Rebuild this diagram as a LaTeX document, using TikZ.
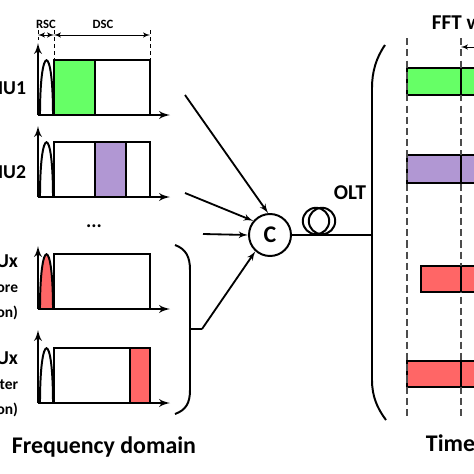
\documentclass[tikz,border=0pt]{standalone}
\usepackage{fontspec}
\setmainfont{Carlito}
\usepackage{tikz}
\usetikzlibrary{shapes,arrows,calc}
\definecolor{onugreen}{RGB}{102,255,102}
\definecolor{onupurple}{RGB}{177,151,211}
\definecolor{onured}{RGB}{255,102,102}
\tikzstyle{line} = [draw, line width=1.3pt, -latex']
\tikzstyle{axis} = [draw, line width=1.7pt, -latex']
\tikzstyle{block} = [draw, line width=1.4pt]
\tikzstyle{dim} = [draw, line width=0.7pt, latex'-latex']
\tikzstyle{tick} = [draw, line width=0.7pt, dash pattern=on 3pt off 2pt]
\tikzstyle{window} = [draw, gray!60!black, line width=0.9pt, dash pattern=on 5pt off 3pt]
\tikzstyle{coupler} = [draw, circle, line width=1.4pt, minimum size=1.05cm, inner sep=0pt]
\tikzstyle{label} = [font=\fontsize{14}{17.7}\selectfont\bfseries]

\begin{document}
\begin{tikzpicture}[x=0.025cm, y=-0.025cm]
        \useasboundingbox (0,0) rectangle (474,474);
        \clip (0,0) rectangle (474,474);
        \fill[onugreen] (54,60) rectangle (95,115);
        \fill[onupurple] (95,142) rectangle (126,197);
        \fill[onured] (130,348) rectangle (150,403);
        \fill[onured] (40,309) .. controls (40,236) and (53,236) .. (53,309);
        \foreach \yb/\ya in {115/43,197/126,309/246,403/330} {
            \draw[block] (40,\yb) .. controls (40,\yb-73) and (53,\yb-73) .. (53,\yb);
            \draw[block] (54,\yb-55) rectangle (150,\yb);
            \path[axis] (38,\yb) -- (38,\ya);
            \path[axis] (38,\yb) -- (170,\yb);
        }
        \draw[block] (95,60) -- (95,115);
        \draw[block] (95,142) -- (95,197);
        \draw[block] (126,142) -- (126,197);
        \draw[block] (130,348) -- (130,403);
        \path[tick] (38,30) -- (38,40);
        \path[tick] (54,30) -- (54,60);
        \path[tick] (150,30) -- (150,60);
        \path[dim] (38,35) -- (54,35);
        \path[dim] (54,35) -- (150,35);
        \node[font=\fontsize{9}{10}\selectfont\bfseries] (rsc) at (46,24) {RSC};
        \node[font=\fontsize{9}{10}\selectfont\bfseries] (dsc) at (103,24) {DSC};
        \node[label, anchor=east] (onu1) at (31,88) {ONU1};
        \node[label, anchor=east] (onu2) at (31,172) {ONU2};
        \node[label] (dots) at (94,226) {...};
        \node[label, anchor=east, align=right] (onuxb) at (23,287) {ONUx\\{\fontsize{11}{17.7}\selectfont (before}\\{\fontsize{11}{17.7}\selectfont allocation)}};
        \node[label, anchor=east, align=right] (onuxa) at (23,384) {ONUx\\{\fontsize{11}{17.7}\selectfont (after}\\{\fontsize{11}{17.7}\selectfont allocation)}};
        \node[font=\fontsize{17}{20}\selectfont\bfseries] (freq) at (104,447) {Frequency domain};
        \draw[block] (175,245) .. controls (186,249) and (190,257) .. (190,270) -- (190,390) .. controls (190,403) and (186,410) .. (175,414);
        \coordinate (brace) at (202,329);
        \draw[block] (190,329) -- (brace);
        \node[coupler, font=\fontsize{17}{20}\selectfont\bfseries] (comb) at (270,235) {C};
        \coordinate (in1) at (185,95);
        \coordinate (in2) at (185,193);
        \coordinate (in3) at (203,234);
        \path[line] (in1) -- (comb.95);
        \path[line] (in2) -- (comb.140);
        \path[line] (in3) -- (comb.west);
        \path[line] (brace) -- (comb.228);
        \coordinate (olt) at (372,235);
        \draw[block] (comb.east) -- (olt);
        \draw[block] (316,221) circle[radius=0.33cm];
        \draw[block] (322,221) circle[radius=0.33cm];
        \node[font=\fontsize{15}{18}\selectfont\bfseries] (oltlabel) at (350,193) {OLT};
        \draw[block] (385,45) .. controls (376,58) and (372,72) .. (372,88) -- (372,380) .. controls (372,396) and (377,408) .. (386,420);
        \filldraw[block, fill=onugreen] (407,68) rectangle (480,95);
        \filldraw[block, fill=onupurple] (407,155) rectangle (480,183);
        \filldraw[block, fill=onured] (421,266) rectangle (480,292);
        \filldraw[block, fill=onured] (407,361) rectangle (480,387);
        \path[window] (407,38) -- (407,418);
        \path[window] (461,38) -- (461,418);
        \draw[block] (461,68) -- (461,95);
        \draw[block] (461,155) -- (461,183);
        \draw[block] (461,266) -- (461,292);
        \draw[block] (461,361) -- (461,387);
        \node[font=\fontsize{15}{18}\selectfont\bfseries, anchor=west] (fft) at (427,22) {FFT window};
        \coordinate (fftend) at (480,47);
        \path[draw, line width=0.7pt, -latex'] (fftend) -- (461,47);
        \node[font=\fontsize{17}{20}\selectfont\bfseries, anchor=west] (time) at (421,443) {Time domain};
    \end{tikzpicture}
\end{document}
